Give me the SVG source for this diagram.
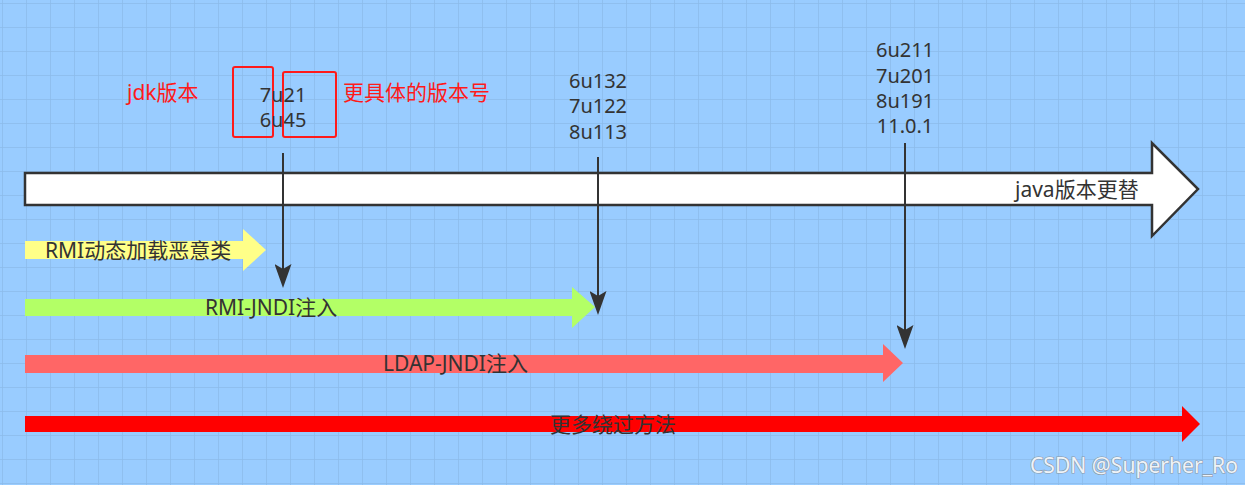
<svg xmlns="http://www.w3.org/2000/svg" width="1245" height="485" viewBox="0 0 1245 485">
  <style>
    text { font-family: "Noto Sans", "Noto Sans CJK SC", sans-serif; }
    .lbl { font-size: 21px; fill: #333333; }
    .ver { font-size: 20px; fill: #333333; text-anchor: middle; }
    .red { font-size: 21px; fill: #ff1a1a; }
    .vline { stroke: #333333; stroke-width: 2; fill: none; marker-end: url(#head); }
    .box { fill: none; stroke: #ff1a1a; stroke-width: 2; }
    .wm { font-size: 21px; fill: #eef3f8; stroke: #8c98a5; stroke-width: 1.2; paint-order: stroke; }
  </style>
  <defs>
    <pattern id="grid" x="2" y="3" width="24" height="24" patternUnits="userSpaceOnUse">
      <path d="M0,0 H24 M0,0 V24" stroke="#8bbbea" stroke-width="1.5" fill="none"/>
    </pattern>
    <marker id="head" viewBox="0 0 24 17" refX="5" refY="8.5" markerWidth="24" markerHeight="17" markerUnits="userSpaceOnUse" orient="auto">
      <path d="M0,0 L24,8.5 L0,17 L5,8.5 z" fill="#333333"/>
    </marker>
  </defs>

  <rect width="1245" height="485" fill="#99ccff"/>
  <rect width="1245" height="485" fill="url(#grid)"/>

  <g id="timeline">
    <polygon points="25,173 1152,173 1152,143 1198,189 1152,236 1152,205 25,205" fill="#ffffff" stroke="#333333" stroke-width="2.5" stroke-linejoin="miter"/>
    <text class="lbl" x="1015" y="197">java版本更替</text>
  </g>

  <g id="rmi-dynamic">
    <polygon points="25,241 243,241 243,229 266,250 243,271 243,259 25,259" fill="#ffff88"/>
    <text class="lbl" x="45" y="258">RMI动态加载恶意类</text>
  </g>

  <g id="rmi-jndi">
    <polygon points="25,299 572,299 572,287 595,307 572,328 572,316 25,316" fill="#b3ff66"/>
    <text class="lbl" x="205" y="315">RMI-JNDI注入</text>
  </g>

  <g id="ldap-jndi">
    <polygon points="25,355 883,355 883,344 903,363 883,382 883,373 25,373" fill="#ff6666"/>
    <text class="lbl" x="383" y="371">LDAP-JNDI注入</text>
  </g>

  <g id="bypass">
    <polygon points="25,416 1182,416 1182,406 1200,424 1182,442 1182,432 25,432" fill="#ff0000"/>
    <text class="lbl" x="550" y="432">更多绕过方法</text>
  </g>

  <g id="legend">
    <text class="red" x="127" y="100">jdk版本</text>
    <rect class="box" x="233" y="67" width="40" height="70" rx="2"/>
    <rect class="box" x="283" y="72" width="53" height="65" rx="2"/>
    <text class="red" x="343" y="100">更具体的版本号</text>
  </g>

  <g id="versions-1">
    <text class="ver" x="283" y="102">7u21</text>
    <text class="ver" x="283" y="127">6u45</text>
  </g>
  <g id="versions-2">
    <text class="ver" x="598" y="88">6u132</text>
    <text class="ver" x="598" y="113">7u122</text>
    <text class="ver" x="598" y="139">8u113</text>
  </g>
  <g id="versions-3">
    <text class="ver" x="905" y="57">6u211</text>
    <text class="ver" x="905" y="83">7u201</text>
    <text class="ver" x="905" y="108">8u191</text>
    <text class="ver" x="905" y="133">11.0.1</text>
  </g>

  <g id="connectors">
    <line class="vline" x1="283" y1="153" x2="283" y2="269"/>
    <line class="vline" x1="598" y1="157" x2="598" y2="296"/>
    <line class="vline" x1="905" y1="143" x2="905" y2="330"/>
  </g>

  <g id="watermark">
    <text class="wm" x="1030" y="473" textLength="208" lengthAdjust="spacingAndGlyphs">CSDN @Superher_Ro</text>
  </g>
</svg>
